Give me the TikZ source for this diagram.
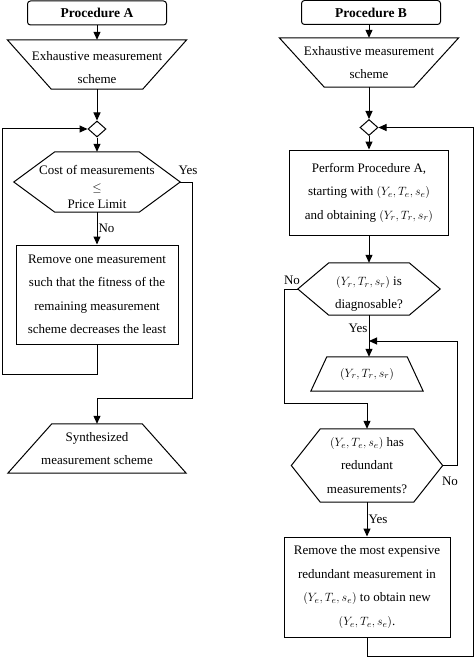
\documentclass[tikz,border=0pt]{standalone}
\usepackage{fontspec}
\setmainfont{Liberation Serif}
\usetikzlibrary{positioning}
\usetikzlibrary{arrows.meta}
\usetikzlibrary{shapes.geometric}
\tikzset{flowbox/.style={rectangle,draw=black,line width=1pt,fill=white,
inner sep=2pt,align=center,font=\fontsize{13}{23.5}\selectfont}}
\tikzset{procbox/.style={flowbox,rounded corners=3pt,
font=\bfseries\fontsize{13.5}{23.5}\selectfont,minimum width=139pt,minimum height=24pt}}
\tikzset{shapebox/.style={rectangle,draw=none,inner sep=0pt,
align=center,font=\fontsize{13}{23.5}\selectfont}}
\tikzset{outline/.style={draw=black,line width=1pt}}
\tikzset{joint/.style={diamond,draw=black,line width=1pt,fill=white,
inner sep=0pt,minimum width=18pt,minimum height=16pt}}
\tikzset{flow/.style={line width=1pt,-{Triangle[length=8pt,width=7pt]}}}
\tikzset{branch/.style={font=\fontsize{13}{15}\selectfont,inner sep=1pt}}

\begin{document}
\begin{tikzpicture}[x=1pt,y=-1pt]
        \useasboundingbox (0,0) rectangle (474,658);

        % Procedure A
        \node[procbox] (procA) at (97,13) {Procedure A};
        \node[shapebox,minimum width=179pt,minimum height=49pt] (exA) at (97,64.5) {};
        \node[shapebox] (exAtxt) at ([yshift=-3pt]exA) {Exhaustive measurement\\scheme};
        \draw[outline] (exA.north west) -- (exA.north east) -- ([xshift=-44pt]exA.south east) -- ([xshift=44pt]exA.south west) -- cycle;
        \node[joint] (djA) at (97,129) {};
        \node[shapebox,minimum width=166pt,minimum height=60pt] (costA) at (97,182) {};
        \node[shapebox] (costAtxt) at ([yshift=-5pt]costA) {Cost of measurements\\[-7pt]$\leq$\\[-6pt]Price Limit};
        \draw[outline] (costA.west) -- ([xshift=41pt]costA.north west) -- ([xshift=-41pt]costA.north east) -- (costA.east) -- ([xshift=-41pt]costA.south east) -- ([xshift=41pt]costA.south west) -- cycle;
        \node[flowbox,minimum width=162pt,minimum height=99pt] (remA) at (97,294.5) {Remove one measurement\\such that the fitness of the\\remaining measurement\\scheme decreases the least};
        \node[shapebox,minimum width=178pt,minimum height=49pt] (synA) at (97,448.5) {Synthesized\\measurement scheme};
        \draw[outline] ([xshift=44pt]synA.north west) -- ([xshift=-44pt]synA.north east) -- (synA.south east) -- (synA.south west) -- cycle;

        \coordinate (loopA) at (2,374);
        \coordinate (yesA) at (192,398);
        \draw[flow] (procA) -- (exA);
        \draw[flow] (exA) -- (djA);
        \draw[flow] (djA) -- (costA);
        \draw[flow] (costA) -- node[branch,right] {No} (remA);
        \draw[flow] (remA.south) |- (loopA) |- (djA.west);
        \draw[flow] (costA.east) -| (yesA) -| (synA.north);
        \node[branch] (yesAlbl) at (188,170) {Yes};

        % Procedure B
        \node[procbox] (procB) at (371,12.5) {Procedure B};
        \node[shapebox,minimum width=179pt,minimum height=49pt] (exB) at (369,62.5) {Exhaustive measurement\\scheme};
        \draw[outline] (exB.north west) -- (exB.north east) -- ([xshift=-45pt]exB.south east) -- ([xshift=45pt]exB.south west) -- cycle;
        \node[joint] (djB) at (369,127.5) {};
        \node[flowbox,minimum width=159pt,minimum height=85pt] (perfB) at (369,192.5) {Perform Procedure A,\\starting with $(Y_e, T_e, s_e)$\\and obtaining $(Y_r, T_r, s_r)$};
        \node[shapebox,minimum width=142pt,minimum height=52pt] (diagB) at (369,289) {};
        \node[shapebox] (diagBtxt) at ([yshift=-5pt]diagB) {$(Y_r, T_r, s_r)$ is\\diagnosable?};
        \draw[outline] (diagB.west) -- ([xshift=31pt]diagB.north west) -- ([xshift=-31pt]diagB.north east) -- (diagB.east) -- ([xshift=-31pt]diagB.south east) -- ([xshift=31pt]diagB.south west) -- cycle;
        \coordinate (jB) at (369,341);
        \node[shapebox,minimum width=112pt,minimum height=34pt] (resB) at (367,374) {$(Y_r, T_r, s_r)$};
        \draw[outline] ([xshift=16pt]resB.north west) -- ([xshift=-16pt]resB.north east) -- (resB.south east) -- (resB.south west) -- cycle;
        \node[shapebox,minimum width=151pt,minimum height=73pt] (redB) at (367,465.5) {$(Y_e, T_e, s_e)$ has\\redundant\\measurements?};
        \draw[outline] (redB.west) -- ([xshift=29pt]redB.north west) -- ([xshift=-29pt]redB.north east) -- (redB.east) -- ([xshift=-29pt]redB.south east) -- ([xshift=29pt]redB.south west) -- cycle;
        \node[flowbox,minimum width=166pt,minimum height=100pt] (rmB) at (367,587) {Remove the most expensive\\redundant measurement in\\$(Y_e, T_e, s_e)$ to obtain new\\$(Y_e, T_e, s_e)$.};

        \coordinate (noB) at (284,403);
        \coordinate (noBr) at (457,341);
        \coordinate (loopB) at (473,656);
        \draw[flow] (procB.south -| exB.north) -- (exB);
        \draw[flow] (exB) -- (djB);
        \draw[flow] (djB) -- (perfB);
        \draw[flow] (perfB) -- (diagB);
        \draw[line width=1pt] (diagB.south) -- node[branch,left] {Yes} (jB);
        \draw[flow] (jB) -- (resB.north -| jB);
        \draw[flow] (diagB.west) -| (noB) -| (redB.north);
        \node[branch] (noBlbl) at (292,280) {No};
        \draw[flow] (redB.east) -| (noBr) -- (jB);
        \node[branch] (noBrlbl) at (450,481) {No};
        \draw[flow] (redB) -- node[branch,right] {Yes} (rmB);
        \draw[flow] (rmB.south) |- (loopB) |- (djB.east);

    \end{tikzpicture}
\end{document}
